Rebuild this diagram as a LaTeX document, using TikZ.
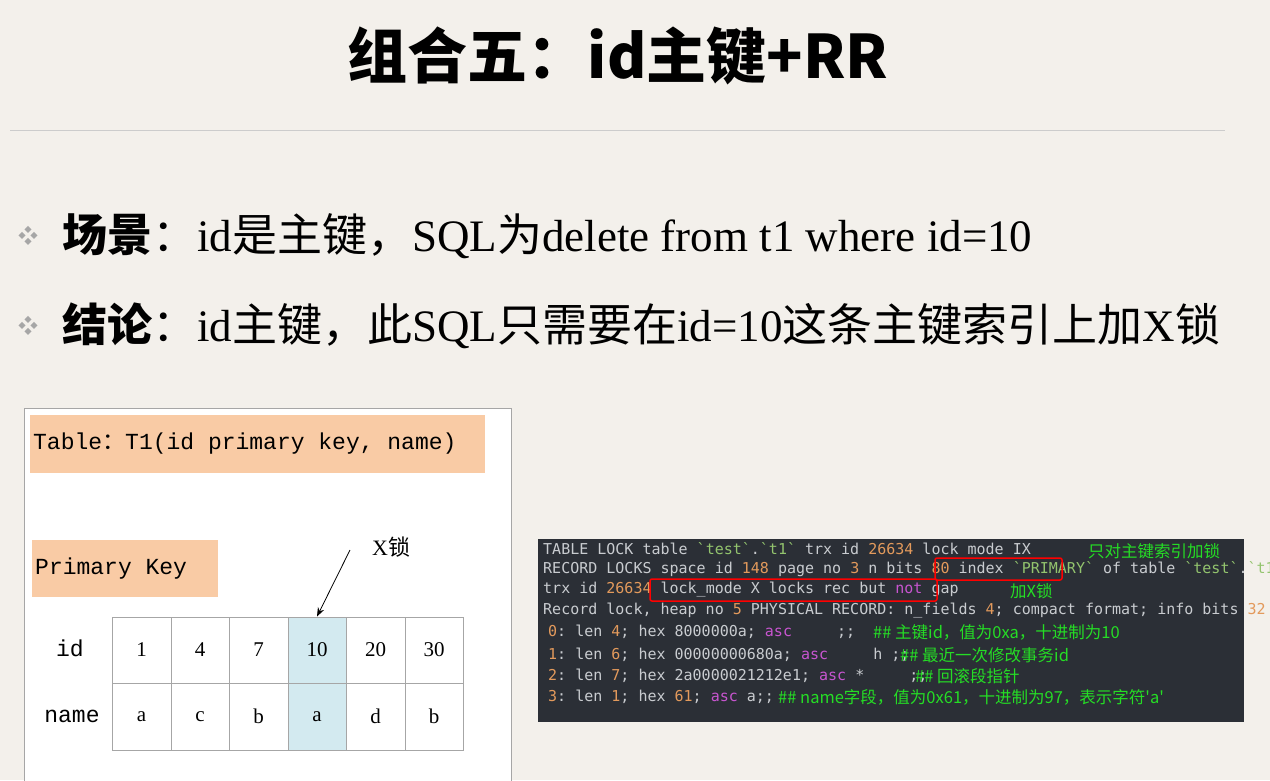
\documentclass[tikz,border=0pt]{standalone}
\usepackage{fontspec}
\usetikzlibrary{arrows.meta}
\setmainfont{Liberation Serif}
\setmonofont{DejaVu Sans Mono}
\newfontfamily\cjk{Noto Sans CJK SC}
\newfontfamily\lmono{Liberation Mono}
\newcommand\Z[1]{{\cjk #1}}
\definecolor{bg}{HTML}{F3F0EB}
\definecolor{peach}{HTML}{F9CBA5}
\definecolor{lblue}{HTML}{D3EAF0}
\definecolor{term}{HTML}{2B2F36}
\definecolor{tg}{HTML}{C9CCD0}
\definecolor{tn}{HTML}{E39A5C}
\definecolor{ts}{HTML}{93C46E}
\definecolor{tm}{HTML}{C855D0}
\definecolor{tc}{HTML}{25DD25}
\newcommand\N[1]{\textcolor{tn}{#1}}
\newcommand\Sg[1]{\textcolor{ts}{#1}}
\newcommand\M[1]{\textcolor{tm}{#1}}
\begin{document}
\begin{tikzpicture}[x=1pt,y=-1pt,
  tline/.style={anchor=west,inner sep=0,text=tg,font=\ttfamily\fontsize{15}{16}\selectfont},
  cmt/.style={anchor=west,inner sep=0,text=tc,font=\cjk\fontsize{16.5}{17}\selectfont},
  cell/.style={draw=gray!70,minimum width=58.5pt,minimum height=66.5pt,inner sep=0,font=\fontsize{21}{22}\selectfont},
  bul/.style={anchor=west,inner sep=0,font=\fontsize{45}{48}\selectfont}]
\useasboundingbox (0,0) rectangle (1270,780);
\fill[bg] (0,0) rectangle (1270,780);
\node[font=\cjk\bfseries\fontsize{60}{64}\selectfont] (title) at (618,56) {组合五：id主键+RR};
\draw[gray!40,line width=1pt] (10,130) -- (1225,130);
% bullets
\node[text=gray!70,font=\cjk\fontsize{20}{20}\selectfont] (b1) at (28,236) {❖};
\node[text=gray!70,font=\cjk\fontsize{20}{20}\selectfont] (b2) at (28,326) {❖};
\node[bul] (l1) at (62,236) {\Z{\bfseries 场景}\Z{：}id\Z{是主键，}SQL\Z{为}delete from t1 where id=10};
\node[bul] (l2) at (62,326) {\Z{\bfseries 结论}\Z{：}id\Z{主键，此}SQL\Z{只需要在}id=10\Z{这条主键索引上加}X\Z{锁}};
% left panel
\filldraw[fill=white,draw=gray!70] (24,408) rectangle (511,790);
\fill[peach] (30,415) rectangle (485,473);
\node[anchor=west,inner sep=0,font=\lmono\fontsize{23}{24}\selectfont] (th) at (33,444) {Table\Z{：}T1(id primary key, name)};
\fill[peach] (32,540) rectangle (218,597);
\node[anchor=west,inner sep=0,font=\lmono\fontsize{23}{24}\selectfont] (pk) at (35,569) {Primary Key};
\fill[lblue] (288,617) rectangle (346,750);
\foreach \v/\n [count=\i from 0] in {1/a,4/c,7/b,10/a,20/d,30/b}{
  \node[cell] (c\i) at ({141.5+58.5*\i},650) {\v};
  \node[cell] (n\i) at ({141.5+58.5*\i},716.5) {\n};
}
\node[font=\lmono\fontsize{23}{24}\selectfont] (idl) at (70,648) {id};
\node[font=\lmono\fontsize{23}{24}\selectfont] (nml) at (72,716) {name};
\node[anchor=west,inner sep=0,font=\fontsize{22}{24}\selectfont] (xl) at (372,547) {X\Z{锁}};
\coordinate (as) at (350,550);
\draw[-{Stealth[length=9pt]},thick] (as) -- (c3.north);
% terminal
\fill[term] (538,539) rectangle (1244,722);
\node[tline] (t1) at (543,549) {TABLE LOCK table \Sg{`test`}.\Sg{`t1`} trx id \N{26634} lock mode IX};
\node[tline] (t2) at (543,569) {RECORD LOCKS space id \N{148} page no \N{3} n bits \N{80} index \Sg{`PRIMARY`} of table \Sg{`test`}.\Sg{`t1`}};
\node[tline] (t3) at (543,590) {trx id \N{26634} lock\_mode X locks rec but \M{not} gap};
\node[tline] (t4) at (543,611) {Record lock, heap no \N{5} PHYSICAL RECORD: n\_fields \N{4}; compact format; info bits \N{32}};
\node[tline] (t5) at (548,632) {\N{0}: len \N{4}; hex 8000000a; \M{asc}\ \ \ \ \ ;;};
\node[tline] (t6) at (548,655) {\N{1}: len \N{6}; hex 00000000680a; \M{asc}\ \ \ \ \ h ;;};
\node[tline] (t7) at (548,676) {\N{2}: len \N{7}; hex 2a0000021212e1; \M{asc} *\ \ \ \ \ ;;};
\node[tline] (t8) at (548,697) {\N{3}: len \N{1}; hex \N{61}; \M{asc} a;;};
\draw[red,line width=1.5pt,rounded corners=2pt] (935,558) rectangle (1062,580);
\draw[red,line width=1.5pt,rounded corners=2pt] (650,579) rectangle (937,601);
\node[cmt] (k1) at (1088,551) {只对主键索引加锁};
\node[cmt] (k2) at (1010,591) {加X锁};
\node[cmt] (k3) at (873,632) {\#\# 主键id，值为0xa，十进制为10};
\node[cmt] (k4) at (900,655) {\#\# 最近一次修改事务id};
\node[cmt] (k5) at (915,676) {\#\# 回滚段指针};
\node[cmt] (k6) at (778,697) {\#\# name字段，值为0x61，十进制为97，表示字符'a'};
\end{tikzpicture}
\end{document}
